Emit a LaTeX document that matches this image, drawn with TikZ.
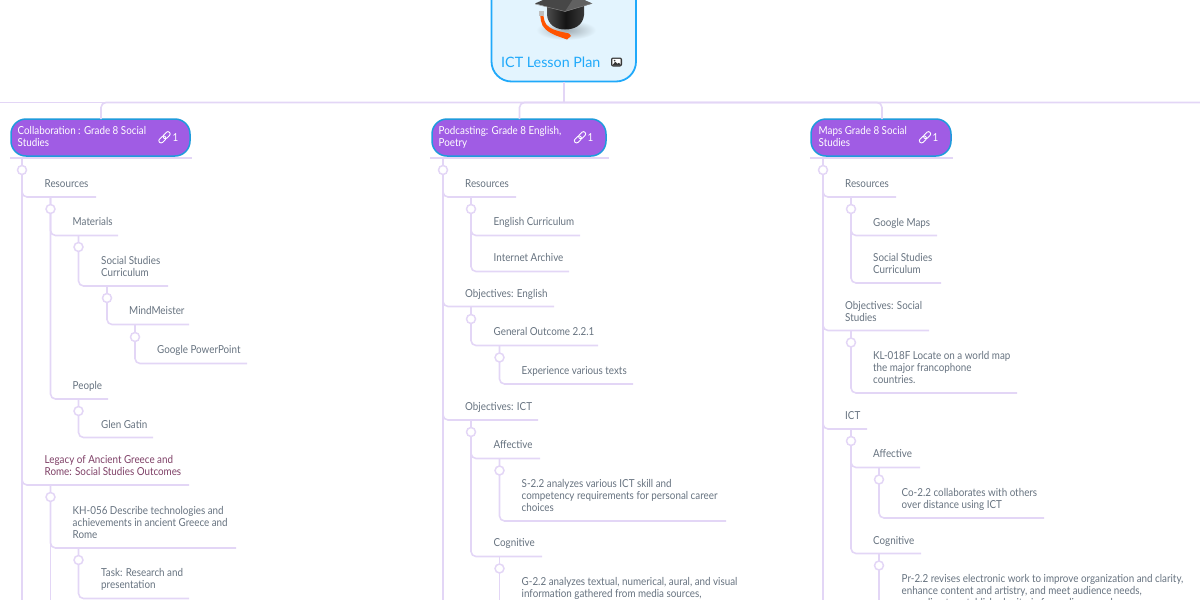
\documentclass[tikz,border=0pt]{standalone}
\usepackage{fontspec}
\setmainfont{Lato}[FakeStretch=0.893]
\newfontfamily\titlefont{Lato}
\usetikzlibrary{shadings}
\definecolor{linec}{HTML}{E3D6F6}
\definecolor{textc}{HTML}{66727F}
\definecolor{legacyc}{HTML}{7E3F66}
\definecolor{purplec}{HTML}{A05CE4}
\definecolor{purpleb}{HTML}{1F9BDC}
\definecolor{rootf}{HTML}{E3F4FE}
\definecolor{rootb}{HTML}{20A9FA}
\newcommand{\mmst}{\rule[-3pt]{0pt}{12pt}}
\tikzset{
  conn/.style={draw=linec,line width=1.6pt,rounded corners=5pt},
  hubnode/.style={circle,draw=linec,line width=1.5pt,fill=white,minimum size=9pt,inner sep=0pt},
  lab/.style={anchor=north west,inner sep=0pt,align=left,text=textc,font=\fontsize{11}{12}\selectfont},
  toplab/.style={anchor=north west,inner sep=0pt,align=left,text=white,font=\fontsize{11}{12}\selectfont},
  mainnode/.style={draw=purpleb,fill=purplec,line width=1.5pt,rounded corners=15pt},
}
% #1 name, #2 hub above, #3 text x, #4 centre y of first line, #5 text, #6 underline y, #7 underline end x
\newcommand{\twig}[7]{%
  \node[lab] (#1) at (#3,#4-5.1) {\mmst #5};
  \coordinate (#1-end) at (#7,#6);
  \draw[conn] (#2) |- (#1-end);
}
\newcommand{\linkicon}[2]{%
  \begin{scope}[shift={(#1,#2)},rotate=45]
    \draw[white,line width=.9pt,rounded corners=2pt] (-7,-2.2) rectangle (1,2.2);
    \draw[white,line width=.9pt,rounded corners=2pt] (-1,-2.2) rectangle (7,2.2);
  \end{scope}
}
\begin{document}
\begin{tikzpicture}[x=1pt,y=-1pt]
\useasboundingbox (0,0) rectangle (1200,600);
\clip (0,0) rectangle (1200,600);
% connector bus
\coordinate (busL) at (0,102.5);
\coordinate (busR) at (1200,102.5);
\draw[draw=linec,line width=1.6pt] (busL) -- (busR);
% root
\path[draw=rootb,fill=rootf,line width=1.8pt,rounded corners=20pt] (491.5,-40) rectangle (636,81.5);
\node[inner sep=0pt,anchor=west,text=rootb,font=\titlefont\fontsize{14.3}{16}\selectfont] (root) at (501,62) {ICT Lesson Plan};
\coordinate (rootb) at (564,81.5);
\coordinate (rootj) at (564,102.5);
\draw[draw=linec,line width=1.6pt] (rootb) -- (rootj);
% cap shadow
\shade[inner color=black!30!rootf,outer color=rootf] (566,30) ellipse (30 and 10);
% cap body
\shade[left color=black!70,right color=black!78,middle color=black!92]
  (547,6) -- (547,15) .. controls (548,25) and (556,29.5) .. (565,29.5) .. controls (575,29.5) and (583,25) .. (584,15) -- (584,5) -- cycle;
% board
\fill[black!72] (535,3.5) -- (565,11.5) -- (592,3.5) -- (575,-4) -- (552,-4) -- cycle;
\fill[black!62] (565,11.5) -- (592,3.5) -- (575,-4) -- cycle;
\draw[black!45,line width=.4pt] (535,4) -- (565,11.5) -- (592,3.5);
% tassel
\fill[orange!65!red] (540,14) -- (543,14) -- (544.5,21) .. controls (546,26) and (551,29) .. (558,31)
  -- (569,33.5) -- (571,36) -- (567,39.5) -- (556,35.5)
  .. controls (548,32) and (542,28) .. (541,21) -- cycle;
\fill[black!25] (539,10.5) rectangle (544,15.5);
% image icon
\fill[black!78,rounded corners=2pt] (611,57.5) rectangle (622,66.5);
\fill[white,rounded corners=.8pt] (612.3,58.8) rectangle (620.7,65.2);
\fill[black!78] (612.3,65.2) -- (615.3,61.8) -- (617.5,63.8) -- (618.8,62.8) -- (620.7,64.6) -- (620.7,65.2) -- cycle;
\fill[black!78] (614.6,60.7) circle (.9);
%
% ---------- main nodes
\path[mainnode] (11,119) rectangle (190,156);
\node[toplab] (m1) at (17.5,125.5) {\mmst Collaboration : Grade 8 Social\\Studies};
\linkicon{164.5}{137.3}
\node[inner sep=0pt,text=white,font=\fontsize{11}{12}\selectfont] (m1n) at (175.5,137.3) {1};
\coordinate (m1top) at (101,119);
\draw[conn] (m1top) |- (busR);
\coordinate (m1ulA) at (10,158);\coordinate (m1ulB) at (192,158);
\draw[conn] (m1ulA) -- (m1ulB);
%
\path[mainnode] (432,119) rectangle (606,156);
\node[toplab] (m2) at (438.5,125.5) {\mmst Podcasting: Grade 8 English,\\Poetry};
\linkicon{580}{137.3}
\node[inner sep=0pt,text=white,font=\fontsize{11}{12}\selectfont] (m2n) at (590.5,137.3) {1};
\coordinate (m2top) at (519.5,119);
\draw[conn] (m2top) |- (rootj);
\coordinate (m2ulA) at (430,158);\coordinate (m2ulB) at (609,158);
\draw[conn] (m2ulA) -- (m2ulB);
%
\path[mainnode] (811,119) rectangle (951,156);
\node[toplab] (m3) at (818.5,125.5) {\mmst Maps Grade 8 Social\\Studies};
\linkicon{925}{137.3}
\node[inner sep=0pt,text=white,font=\fontsize{11}{12}\selectfont] (m3n) at (935.5,137.3) {1};
\coordinate (m3top) at (882,119);
\draw[conn] (m3top) |- (rootj);
\coordinate (m3ulA) at (810,158);\coordinate (m3ulB) at (953,158);
\draw[conn] (m3ulA) -- (m3ulB);
%
% ---------- column 1
\coordinate (a0) at (22,158);\coordinate (a0b) at (22,600);
\draw[conn] (a0) -- (a0b);
\twig{a1}{a0}{44.5}{183}{Resources}{197}{96}
\twig{a8}{a0}{44.5}{459.5}{\textcolor{legacyc}{Legacy of Ancient Greece and}\\\textcolor{legacyc}{Rome: Social Studies Outcomes}}{485}{189}
\node[hubnode] (ah0) at (22,170) {};
\coordinate (a1j) at (50.5,197);
\twig{a2}{a1j}{72.5}{221.5}{Materials}{235.5}{118}
\twig{a6}{a1j}{72.5}{385}{People}{399}{108}
\node[hubnode] (ah1) at (50.5,209) {};
\coordinate (a2j) at (78.5,235.5);
\twig{a3}{a2j}{101}{260}{Social Studies\\Curriculum}{286}{168}
\node[hubnode] (ah2) at (78.5,247) {};
\coordinate (a3j) at (107,286);
\twig{a4}{a3j}{129}{310.5}{MindMeister}{324.5}{189}
\node[hubnode] (ah3) at (107,298) {};
\coordinate (a4j) at (135,324.5);
\twig{a5}{a4j}{157}{349.5}{Google PowerPoint}{363.5}{247}
\node[hubnode] (ah4) at (135,337) {};
\coordinate (a6j) at (78.5,399);
\twig{a7}{a6j}{101}{424}{Glen Gatin}{437.5}{153}
\node[hubnode] (ah5) at (78.5,411) {};
\coordinate (a8j) at (50.5,485);
\coordinate (a8b) at (50.5,600);
\draw[conn] (a8j) -- (a8b);
\twig{a9}{a8j}{72.5}{510}{KH-056 Describe technologies and\\achievements in ancient Greece and\\Rome}{548}{236}
\node[hubnode] (ah6) at (50.5,497) {};
\coordinate (a9j) at (78.5,548);
\twig{a10}{a9j}{101}{572.5}{Task: Research and\\presentation}{598.5}{189}
\node[hubnode] (ah7) at (78.5,560) {};
%
% ---------- column 2
\coordinate (b0) at (443,158);\coordinate (b0b) at (443,600);
\draw[conn] (b0) -- (b0b);
\twig{b1}{b0}{465}{183}{Resources}{197}{516}
\twig{b4}{b0}{465}{293}{Objectives: English}{306.5}{554}
\twig{b7}{b0}{465}{406}{Objectives: ICT}{420}{538}
\node[hubnode] (bh0) at (443,170) {};
\coordinate (b1j) at (471,197);
\twig{b2}{b1j}{493.5}{221.5}{English Curriculum}{235.5}{580}
\twig{b3}{b1j}{493.5}{257.5}{Internet Archive}{271.5}{569}
\node[hubnode] (bh1) at (471,209) {};
\coordinate (b4j) at (471,306.5);
\twig{b5}{b4j}{493.5}{331.5}{General Outcome 2.2.1}{345.5}{598}
\node[hubnode] (bh2) at (471,319) {};
\coordinate (b5j) at (499.5,345.5);
\twig{b6}{b5j}{521.5}{370}{Experience various texts}{384}{633}
\node[hubnode] (bh3) at (499.5,357.5) {};
\coordinate (b7j) at (471,420);
\twig{b8}{b7j}{493.5}{444.5}{Affective}{458.5}{540}
\twig{b10}{b7j}{493.5}{542.5}{Cognitive}{556.5}{542}
\node[hubnode] (bh4) at (471,432) {};
\coordinate (b8j) at (499.5,458.5);
\twig{b9}{b8j}{521.5}{483}{S-2.2 analyzes various ICT skill and\\competency requirements for personal career\\choices}{521}{726}
\node[hubnode] (bh5) at (499.5,470.5) {};
\coordinate (b10j) at (499.5,556.5);\coordinate (b10b) at (499.5,600);
\draw[conn] (b10j) -- (b10b);
\node[lab] (b11) at (521.5,576.4) {\mmst G-2.2 analyzes textual, numerical, aural, and visual\\information gathered from media sources,};
\node[hubnode] (bh6) at (499.5,568.5) {};
%
% ---------- column 3
\coordinate (c0) at (823,158);\coordinate (c0b) at (823,600);
\draw[conn] (c0) -- (c0b);
\twig{c1}{c0}{845}{183}{Resources}{197}{896}
\twig{c4}{c0}{845}{305}{Objectives: Social\\Studies}{330.5}{929}
\twig{c6}{c0}{845}{415}{ICT}{429}{867}
\node[hubnode] (ch0) at (823,170) {};
\coordinate (c1j) at (851,197);
\twig{c2}{c1j}{873}{222}{Google Maps}{235.5}{937}
\twig{c3}{c1j}{873}{257.5}{Social Studies\\Curriculum}{283}{941}
\node[hubnode] (ch1) at (851,209) {};
\coordinate (c4j) at (851,330.5);
\twig{c5}{c4j}{873}{355.5}{KL-018F Locate on a world map\\the major francophone\\countries.}{393}{1017}
\node[hubnode] (ch2) at (851,342.5) {};
\coordinate (c6j) at (851,429);
\twig{c7}{c6j}{873}{453.5}{Affective}{467.5}{920}
\twig{c9}{c6j}{873}{540}{Cognitive}{553.5}{921}
\node[hubnode] (ch3) at (851,441) {};
\coordinate (c7j) at (879,467.5);
\twig{c8}{c7j}{901.5}{492}{Co-2.2 collaborates with others\\over distance using ICT}{518}{1044}
\node[hubnode] (ch4) at (879,479.5) {};
\coordinate (c9j) at (879,553.5);\coordinate (c9b) at (879,600);
\draw[conn] (c9j) -- (c9b);
\node[lab] (c10) at (901.5,573.4) {\mmst Pr-2.2 revises electronic work to improve organization and clarity,\\enhance content and artistry, and meet audience needs,\\according to established criteria for audience and};
\node[hubnode] (ch5) at (879,565.5) {};
\end{tikzpicture}
\end{document}
